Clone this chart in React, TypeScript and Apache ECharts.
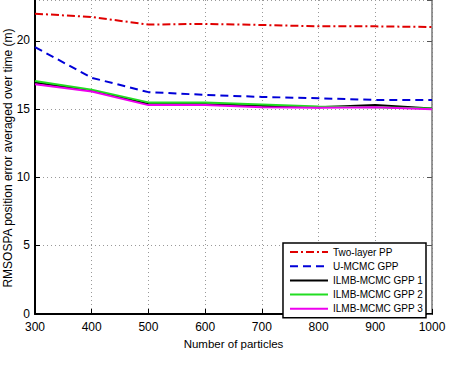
import React, { useEffect, useRef } from "react";
import * as echarts from "echarts";

const particles = [300, 400, 500, 600, 700, 800, 900, 1000];
const twoLayerPP = [22.0, 21.75, 21.2, 21.25, 21.17, 21.07, 21.07, 21.02];
const uMcmcGpp = [19.55, 17.3, 16.25, 16.05, 15.9, 15.8, 15.68, 15.68];
const ilmb1 = [16.95, 16.35, 15.38, 15.37, 15.25, 15.15, 15.3, 15.05];
const ilmb2 = [17.07, 16.42, 15.5, 15.5, 15.35, 15.2, 15.15, 15.05];
const ilmb3 = [16.83, 16.3, 15.3, 15.3, 15.15, 15.1, 15.15, 15.0];

const FONT = "Liberation Sans";

export default function App() {
  const ref = useRef<HTMLDivElement>(null);
  useEffect(() => {
    const chart = echarts.init(ref.current!, null, { renderer: "svg" });
    const pair = (arr: number[]) => particles.map((p, i) => [p, arr[i]]);
    const mk = (name: string, arr: number[], color: string, type: any) => ({
      name,
      type: "line",
      data: pair(arr),
      symbol: "none",
      lineStyle: { color, width: 2, type },
      itemStyle: { color },
    });
    chart.setOption({
      animation: false,
      textStyle: { fontFamily: FONT },
      grid: { left: 35, right: 42, top: 0, bottom: 63 },
      xAxis: [
        {
          type: "value",
          min: 300,
          max: 1000,
          interval: 100,
          position: "bottom",
          axisLine: { lineStyle: { color: "#000", width: 2 } },
          axisTick: { inside: true, length: 5, lineStyle: { color: "#000" } },
          axisLabel: { color: "#000", fontSize: 12, margin: 7, fontFamily: FONT, formatter: (v: number) => String(v) },
          splitLine: { show: true, lineStyle: { color: "#999", type: [1, 3] } },
          name: "Number of particles",
          nameLocation: "middle",
          nameGap: 21,
          nameTextStyle: { color: "#000", fontSize: 11.5, fontFamily: FONT },
        },
      ],
      yAxis: [
        {
          type: "value",
          min: 0,
          max: 23,
          interval: 5,
          position: "left",
          axisLine: { show: true, lineStyle: { color: "#000", width: 2 } },
          axisTick: { show: true, inside: true, length: 5, lineStyle: { color: "#000" } },
          axisLabel: { color: "#000", fontSize: 12, margin: 5, fontFamily: FONT, showMaxLabel: false, lineHeight: 11, verticalAlign: "bottom", padding: [0, 0, -5, 0] },
          splitLine: { show: true, lineStyle: { color: "#999", type: [1, 3] } },
        },
        {
          type: "value",
          min: 0,
          max: 23,
          interval: 5,
          position: "right",
          axisLine: { show: true, lineStyle: { color: "#777", width: 1.5 } },
          axisTick: { show: true, inside: true, length: 5, lineStyle: { color: "#555" } },
          axisLabel: { show: false },
          splitLine: { show: false },
        },
      ],
      legend: {
        right: 48,
        top: 243,
        orient: "vertical",
        itemWidth: 38,
        itemHeight: 8,
        itemGap: 4.2,
        padding: [4, 3, 4, 6],
        borderColor: "#000",
        borderWidth: 1.5,
        borderRadius: 0,
        backgroundColor: "#fff",
        itemStyle: { opacity: 0 },
        textStyle: { color: "#000", fontSize: 10, fontFamily: FONT },
        data: ["Two-layer PP", "U-MCMC GPP", "ILMB-MCMC GPP 1", "ILMB-MCMC GPP 2", "ILMB-MCMC GPP 3"],
      },
      graphic: [
        {
          type: "text",
          x: 8,
          y: 158,
          rotation: Math.PI / 2,
          style: {
            text: "RMSOSPA position error averaged over time (m)",
            fill: "#000",
            font: `12px ${FONT}`,
            align: "center",
            verticalAlign: "middle",
          },
        },
      ],
      series: [
        mk("Two-layer PP", twoLayerPP, "#e00000", [8, 3, 2, 3]),
        mk("U-MCMC GPP", uMcmcGpp, "#0000d8", [8, 5]),
        mk("ILMB-MCMC GPP 1", ilmb1, "#000000", "solid"),
        mk("ILMB-MCMC GPP 2", ilmb2, "#22dd22", "solid"),
        mk("ILMB-MCMC GPP 3", ilmb3, "#ee00ee", "solid"),
      ],
    });
    return () => chart.dispose();
  }, []);
  return <div ref={ref} style={{ width: 474, height: 377, position: "absolute", left: 0, top: 0 }} />;
}
